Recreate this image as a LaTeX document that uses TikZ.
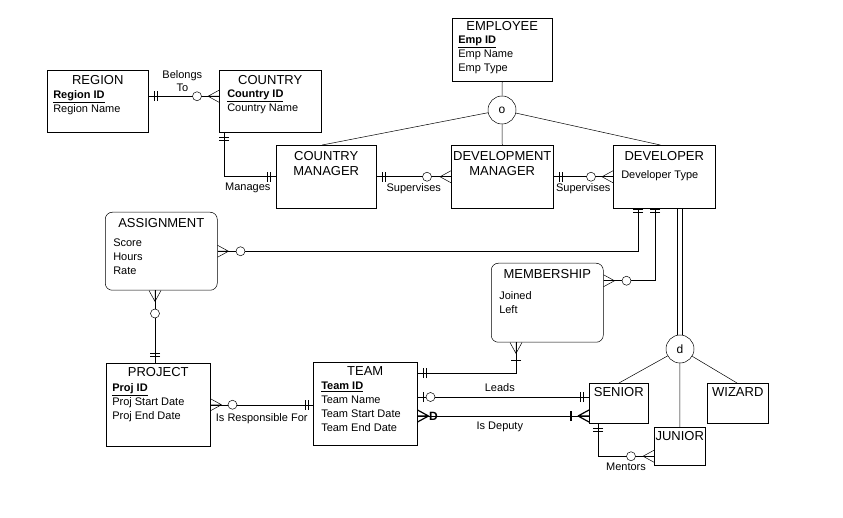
\documentclass[tikz,border=0pt]{standalone}
\usepackage{fontspec}
\setmainfont{Liberation Sans}
\usetikzlibrary{positioning, calc}
\tikzset{
  box/.style = {
    draw,
    rectangle,
    anchor=north west,
    inner sep=0pt,
  },
  weak/.style = {
    box,
    rounded corners=7pt,
  },
  title/.style = {
    anchor=north,
    align=center,
    inner sep=0pt,
    font=\fontsize{13}{15}\selectfont,
  },
  attrs/.style = {
    anchor=north west,
    align=left,
    inner sep=0pt,
    font=\fontsize{11}{14}\selectfont,
  },
  subtype/.style = {
    draw,
    circle,
    minimum size=28pt,
    inner sep=0pt,
    font=\fontsize{12}{12}\selectfont,
  },
  onLine/.style = {
    font=\fontsize{11}{13}\selectfont,
    align=center,
  },
  crow/.pic = {
    \draw (-11,0) -- (0,6) (-11,0) -- (0,0) (-11,0) -- (0,-6);
  },
  ring/.pic = {
    \draw[fill=white] (0,0) circle (4.5);
  },
  bars/.pic = {
    \draw (0,-5) -- (0,5) (3,-5) -- (3,5);
  },
  onebar/.pic = {
    \draw (0,-5) -- (0,5);
  },
  x=1pt, y=1pt,
}
\newcommand{\key}[1]{\underline{\textbf{#1}}}

\begin{document}
\begin{tikzpicture}[line width=.5pt]
\useasboundingbox (0,0) rectangle (843,-518);

% entities
\node(Employee)[box, minimum width=100, minimum height=63] at (452,-18) {};
\node(EmployeeT)[title] at ([yshift=-3]Employee.north) {EMPLOYEE};
\node(EmployeeA)[attrs] at ([xshift=6,yshift=-18]Employee.north west) {\key{Emp ID}\\Emp Name\\Emp Type};
\node(Region)[box, minimum width=101, minimum height=62] at (47,-70) {};
\node(RegionT)[title] at ([yshift=-5]Region.north) {REGION};
\node(RegionA)[attrs] at ([xshift=6,yshift=-20]Region.north west) {\key{Region ID}\\Region Name};
\node(Country)[box, minimum width=102, minimum height=62] at (219,-70) {};
\node(CountryT)[title] at ([yshift=-5]Country.north) {COUNTRY};
\node(CountryA)[attrs] at ([xshift=8,yshift=-20]Country.north west) {\key{Country ID}\\Country Name};
\node(CtyMgr)[box, minimum width=100, minimum height=63] at (276,-145) {};
\node(CtyMgrT)[title] at ([yshift=-6]CtyMgr.north) {COUNTRY\\MANAGER};
\node(DevMgr)[box, minimum width=102, minimum height=63] at (451,-145) {};
\node(DevMgrT)[title] at ([yshift=-6]DevMgr.north) {DEVELOPMENT\\MANAGER};
\node(Developer)[box, minimum width=102, minimum height=63] at (613,-145) {};
\node(DeveloperT)[title] at ([yshift=-6]Developer.north) {DEVELOPER};
\node(DeveloperA)[attrs] at ([xshift=8,yshift=-25]Developer.north west) {Developer Type};
\node(Assignment)[weak, minimum width=112, minimum height=78] at (105,-212) {};
\node(AssignmentT)[title] at ([yshift=-6]Assignment.north) {ASSIGNMENT};
\node(AssignmentA)[attrs] at ([xshift=8,yshift=-27]Assignment.north west) {Score\\Hours\\Rate};
\node(Membership)[weak, minimum width=112, minimum height=79] at (491,-263) {};
\node(MembershipT)[title] at ([yshift=-6]Membership.north) {MEMBERSHIP};
\node(MembershipA)[attrs] at ([xshift=8,yshift=-28]Membership.north west) {Joined\\Left};
\node(Project)[box, minimum width=104, minimum height=83] at (106,-363) {};
\node(ProjectT)[title] at ([yshift=-4]Project.north) {PROJECT};
\node(ProjectA)[attrs] at ([xshift=6,yshift=-20]Project.north west) {\key{Proj ID}\\Proj Start Date\\Proj End Date};
\node(Team)[box, minimum width=104, minimum height=83] at (313,-362) {};
\node(TeamT)[title] at ([yshift=-4]Team.north) {TEAM};
\node(TeamA)[attrs] at ([xshift=8,yshift=-20]Team.north west) {\key{Team ID}\\Team Name\\Team Start Date\\Team End Date};
\node(Senior)[box, minimum width=59, minimum height=40] at (589,-383) {};
\node(SeniorT)[title] at ([yshift=-4]Senior.north) {SENIOR};
\node(Wizard)[box, minimum width=61, minimum height=40] at (707,-383) {};
\node(WizardT)[title] at ([yshift=-4]Wizard.north) {WIZARD};
\node(Junior)[box, minimum width=51, minimum height=38] at (654,-427) {};
\node(JuniorT)[title] at ([yshift=-4]Junior.north) {JUNIOR};
\node(Overlap)[subtype] at (502,-110) {o};
\node(Disjoint)[subtype] at (680,-349) {d};

% subtypes
\draw (Overlap) -- (Employee.south);
\draw (Overlap) -- ([xshift=-4]CtyMgr.north);
\draw (Overlap) -- (DevMgr.north);
\draw (Overlap) -- ([xshift=-4]Developer.north);
\draw ([xshift=-2.5]Disjoint.north |- Developer.south) -- ([xshift=-2.5]Disjoint.north);
\draw ([xshift=2.5]Disjoint.north |- Developer.south) -- ([xshift=2.5]Disjoint.north);
\draw (Disjoint) -- ([xshift=30]Senior.north west);
\draw (Disjoint) -- (Junior.north);
\draw (Disjoint) -- ([xshift=30]Wizard.north west);

% region - country
\coordinate(RC) at ([yshift=5]Region.east);
\draw (RC) -- (RC -| Country.west);
\draw ([xshift=6]RC) pic{bars};
\draw ([xshift=-22]RC -| Country.west) pic{ring};
\draw (RC -| Country.west) pic{crow};
\node(BelongsTo)[onLine, above=1pt of $(RC)!.48!(RC -| Country.west)$] {Belongs\\To};

% country - country manager
\coordinate(CM) at ([xshift=5]Country.south west);
\draw (CM) |- (CtyMgr.west);
\draw ([yshift=-8]CM) pic[rotate=90]{bars};
\draw ([xshift=-9]CtyMgr.west) pic{bars};
\node(Manages)[onLine, below left=3pt and 2pt of CtyMgr.west] {Manages};

% supervises
\draw (CtyMgr.east) -- (DevMgr.west);
\draw ([xshift=6]CtyMgr.east) pic{bars};
\draw ([xshift=-24]DevMgr.west) pic{ring};
\draw (DevMgr.west) pic{crow};
\node(Supervises1)[onLine, below=3pt of $(CtyMgr.east)!.5!(DevMgr.west)$] {Supervises};
\draw (DevMgr.east) -- (Developer.west);
\draw ([xshift=6]DevMgr.east) pic{bars};
\draw ([xshift=-22]Developer.west) pic{ring};
\draw (Developer.west) pic{crow};
\node(Supervises2)[onLine, below=3pt of $(DevMgr.east)!.5!(Developer.west)$] {Supervises};

% developer - assignment, membership
\coordinate(DA) at ([xshift=25]Developer.south west);
\draw (DA) |- (Assignment.east);
\draw ([yshift=-4]DA) pic[rotate=90]{bars};
\draw ([xshift=23]Assignment.east) pic{ring};
\draw (Assignment.east) pic[rotate=180]{crow};
\coordinate(DM) at ([xshift=42]Developer.south west);
\coordinate(MB) at ([yshift=22]Membership.east);
\draw (DM) |- (MB);
\draw ([yshift=-4]DM) pic[rotate=90]{bars};
\draw ([xshift=23]MB) pic{ring};
\draw (MB) pic[rotate=180]{crow};

% assignment - project
\coordinate(AP) at ([xshift=50]Assignment.south west);
\draw (AP) -- (AP |- Project.north);
\draw (AP) pic[rotate=90]{crow};
\draw ([yshift=-23]AP) pic{ring};
\draw ([yshift=7]AP |- Project.north) pic[rotate=90]{bars};

% project - team
\draw (Project.east) -- (Project.east -| Team.west);
\draw (Project.east) pic[rotate=180]{crow};
\draw ([xshift=22]Project.east) pic{ring};
\draw ([xshift=-8]Project.east -| Team.west) pic{bars};
\node(Responsible)[onLine, below=5pt of $(Project.east)!.5!(Project.east -| Team.west)$] {Is Responsible For};

% membership - team
\coordinate(MT) at ([xshift=25]Membership.south west);
\coordinate(TM) at ([yshift=-11]Team.north east);
\draw (MT) |- (TM);
\draw (MT) pic[rotate=90]{crow};
\draw ([yshift=-18]MT) pic[rotate=90]{onebar};
\draw ([xshift=6]TM) pic{bars};

% team - senior
\coordinate(TL) at ([yshift=-35]Team.north east);
\draw (TL) -- (TL -| Senior.west);
\draw ([xshift=6]TL) pic{onebar};
\draw ([xshift=13]TL) pic{ring};
\draw ([xshift=-9]TL -| Senior.west) pic{bars};
\node(Leads)[onLine, above=2pt of $(TL)!.48!(TL -| Senior.west)$] {Leads};
\coordinate(TD) at ([yshift=-54]Team.north east);
\draw (TD) -- (TD -| Senior.west);
\draw[line width=1.2pt] (TD) pic[rotate=180]{crow};
\node(Zero)[font=\bfseries\fontsize{12}{12}\selectfont, inner sep=0pt] at ([xshift=16]TD) {D};
\draw[line width=1.2pt] (TD -| Senior.west) pic{crow};
\draw[line width=1.2pt] ([xshift=-18]TD -| Senior.west) pic{onebar};
\node(Deputy)[onLine, below=2pt of $(TD)!.48!(TD -| Senior.west)$] {Is Deputy};

% senior - junior
\coordinate(SJ) at ([xshift=9]Senior.south west);
\coordinate(JS) at ([yshift=-10]Junior.west);
\draw (SJ) |- (JS);
\draw ([yshift=-8]SJ) pic[rotate=90]{bars};
\draw ([xshift=-23]JS) pic{ring};
\draw (JS) pic{crow};
\node(Mentors)[onLine, below=3pt of $(SJ |- JS)!.5!(JS)$] {Mentors};

\end{tikzpicture}
\end{document}
